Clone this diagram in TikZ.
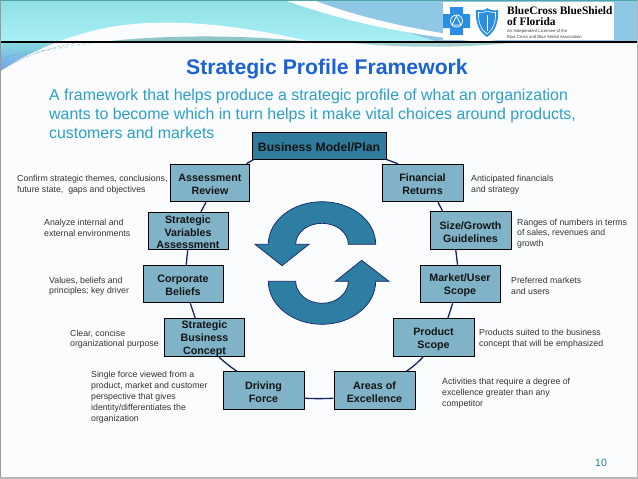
\documentclass[tikz,border=0pt]{standalone}
\usepackage{fontspec}
\setmainfont{Liberation Sans}
\newfontfamily\logofont{Liberation Serif}
\usetikzlibrary{calc}
\definecolor{boxfill}{HTML}{80B3C8}
\definecolor{planfill}{HTML}{2F7C9C}
\definecolor{arrowfill}{HTML}{2E7DA3}
\definecolor{navy}{HTML}{14246B}
\definecolor{pagebg}{HTML}{FBFCFD}
\definecolor{bandcyan}{HTML}{A8F0F5}
\definecolor{bandblue}{HTML}{8FC8E4}
\definecolor{titleblue}{HTML}{1C62D2}
\definecolor{bodyblue}{HTML}{2C9FC8}
\definecolor{notegray}{HTML}{333333}
\definecolor{logoblue}{HTML}{2A8FE2}
\definecolor{pagenum}{HTML}{2E7A92}
\tikzset{
  x=1pt,y=-1pt,
  boxbase/.style={draw=black,line width=1pt,fill=boxfill,text=black!92,inner sep=0pt,align=center,
    minimum width=80pt,minimum height=37.5pt,font=\fontsize{10.7}{12.8}\selectfont\bfseries},
  boxnode/.style={boxbase,execute at begin node={\rule{0pt}{23.5pt}}},
  threelines/.style={boxbase,execute at begin node={\rule{0pt}{36pt}}},
  planbox/.style={boxbase,fill=planfill,minimum width=134pt,minimum height=27pt,
    font=\fontsize{12.2}{14}\selectfont\bfseries,execute at begin node={\rule{0pt}{11.5pt}}},
  note/.style={anchor=west,align=left,inner sep=0pt,yshift=-1.2pt,text=notegray,font=\fontsize{8.75}{10.8}\selectfont},
  link/.style={draw=navy,line width=1.3pt},
  cycle/.style={draw=navy,line width=.7pt,fill=arrowfill,line join=miter},
}
\begin{document}
\begin{tikzpicture}
\useasboundingbox (0,0) rectangle (638,479);
% page and header band
\fill[pagebg] (0,0) rectangle (638,479);
\fill[top color=bandcyan!85!teal,bottom color=bandcyan] (0,0) -- (300,0) -- (440,42) -- (0,42) -- cycle;
\fill[bandblue] (300,0) -- (638,0) -- (638,42) -- (440,42) -- cycle;
\fill[white] (284,0) .. controls (340,20) and (400,34) .. (480,42) -- (505,42) .. controls (420,32) and (360,18) .. (313,0) -- cycle;
\fill[top color=bandcyan!80!teal,bottom color=bandblue!80!blue] (0,42) -- (80,42) .. controls (45,48) and (20,58) .. (0,71) -- cycle;
\fill[pagebg] (0,71) .. controls (30,52) and (65,36) .. (110,27) .. controls (170,17) and (240,25) .. (312,42) -- (80,42) .. controls (45,48) and (20,58) .. (0,71) -- cycle;
\draw[teal!70,line width=.4pt,dashed] (0,58) -- (90,43);
\fill[teal!45] (110,41) .. controls (180,34) and (250,36) .. (303,41) -- cycle;
\fill[teal!35] (353,43) .. controls (400,48) and (460,48) .. (510,43) -- cycle;
% logo
\fill[white] (443,2) rectangle (614,40);
\fill[logoblue] (450,7) -- (463,7) -- (463,14) -- (470,14) -- (470,28) -- (463,28) -- (463,35) -- (450,35) -- (450,28) -- (443,28) -- (443,14) -- (450,14) -- cycle;
\draw[white,line width=.8pt] (456.5,21) circle[radius=6pt];
\draw[white,line width=.7pt] (456.5,16) -- (452,25) -- (461,25) -- cycle;
\fill[logoblue] (476,10) .. controls (482,11) and (488,9) .. (487,8) .. controls (490,10) and (494,11) .. (498,10) .. controls (499,22) and (495,32) .. (487,37) .. controls (479,32) and (475,22) .. (476,10) -- cycle;
\draw[white,line width=.6pt] (478.5,12.5) .. controls (482,13) and (485,12) .. (487,11) .. controls (490,12) and (493,13) .. (495.5,12.5) .. controls (496,22) and (493,30) .. (487,34) .. controls (481,30) and (478,22) .. (478.5,12.5) -- cycle;
\draw[white,line width=.9pt] (487,15) -- (487,31);
\node[anchor=west,inner sep=0pt,font=\logofont\bfseries\fontsize{11.4}{12}\selectfont] (logoa) at (507,11) {BlueCross BlueShield};
\node[anchor=west,inner sep=0pt,font=\logofont\bfseries\fontsize{11.4}{12}\selectfont] (logob) at (507,22) {of Florida};
\node[anchor=west,inner sep=0pt,text=black!75,font=\fontsize{4.25}{5}\selectfont] (logoc) at (507,31) {An Independent Licensee of the};
\node[anchor=west,inner sep=0pt,text=black!75,font=\fontsize{4.25}{5}\selectfont] (logod) at (507,36.5) {Blue Cross and Blue Shield Association};
% rules and frame
\fill[black] (0,41) rectangle (638,43.2);
\fill[teal!70] (0,0) rectangle (638,.7);
\fill[black!40] (0,0) rectangle (1,479);
\fill[black!30] (636.5,0) rectangle (638,479);
\fill[black!28] (0,477) rectangle (638,479);
% title and intro
\node[inner sep=0pt,text=titleblue,font=\fontsize{21.2}{24}\selectfont\bfseries] (title) at (327,69) {Strategic Profile Framework};
\node[anchor=north west,align=left,inner sep=0pt,text=bodyblue,font=\fontsize{15.9}{19}\selectfont] (intro) at (49,89)
  {A framework that helps produce a strategic profile of what an organization\\
   wants to become which in turn helps it make vital choices around products,\\
   customers and markets};
% cycle arrows
\draw[cycle] (375.7,244.3) arc[start angle=0,end angle=180,x radius=53.7pt,y radius=42.6pt]
  -- (255,244.3) -- (282,265.7) -- (309,244.3) -- (295.7,244.3)
  arc[start angle=180,end angle=0,x radius=26.3pt,y radius=21pt] -- cycle;
\draw[cycle] (268.3,281.3) arc[start angle=180,end angle=360,x radius=53.7pt,y radius=43pt]
  -- (389,281.3) -- (361.7,260.3) -- (335.3,281.3) -- (348.3,281.3)
  arc[start angle=360,end angle=180,x radius=26.3pt,y radius=22pt] -- cycle;
% boxes
\node[planbox] (plan) at (319,145.5) {Business Model/Plan};
\node[boxnode,minimum width=79pt] (assess) at (210,183) {Assessment\\Review};
\node[threelines] (vars) at (188,231) {Strategic\\Variables\\Assessment};
\node[boxnode] (beliefs) at (183,284) {Corporate\\Beliefs};
\node[threelines] (concept) at (204.5,337.5) {Strategic\\Business\\Concept};
\node[boxnode,minimum width=81pt] (force) at (263.5,390.5) {Driving\\Force};
\node[boxnode,minimum width=81pt] (excel) at (374.5,390.5) {Areas of\\Excellence};
\node[boxnode,minimum width=81pt] (product) at (433.5,337.5) {Product\\Scope};
\node[boxnode] (market) at (460,284) {Market/User\\Scope};
\node[boxnode,minimum width=81pt] (size) at (470.5,230.5) {Size/Growth\\Guidelines};
\node[boxnode,minimum width=81pt] (fin) at (422.5,183) {Financial\\Returns};
% connectors
\draw[link] ($(plan.south west)!.015!(plan.south east)$) -- ($(assess.north west)!.955!(assess.north east)$);
\draw[link] (plan.south east) -- ($(fin.north west)!.2!(fin.north east)$);
\draw[link] ($(fin.south west)!.69!(fin.south east)$) -- ($(size.north west)!.16!(size.north east)$);
\draw[link] ($(size.south west)!.32!(size.south east)$) -- ($(market.north west)!.47!(market.north east)$);
\draw[link] ($(market.south west)!.41!(market.south east)$) -- ($(product.north west)!.675!(product.north east)$);
\draw[link] ($(product.south west)!.375!(product.south east)$) to[bend left=6] ($(excel.north west)!.89!(excel.north east)$);
\draw[link] ($(excel.south west)!.3!(excel.north west)$) to[bend left=3] ($(force.south east)!.3!(force.north east)$);
\draw[link] ($(force.north west)!.175!(force.north east)$) to[bend left=4] ($(concept.south west)!.68!(concept.south east)$);
\draw[link] ($(concept.north west)!.385!(concept.north east)$) -- ($(beliefs.south west)!.59!(beliefs.south east)$);
\draw[link] ($(beliefs.north west)!.54!(beliefs.north east)$) -- ($(vars.south west)!.496!(vars.south east)$);
\draw[link] ($(vars.north west)!.66!(vars.north east)$) -- ($(assess.south west)!.45!(assess.south east)$);
% notes
\node[note] (n1) at (17,183.5) {Confirm strategic themes, conclusions,\\future state,\ \ gaps and objectives};
\node[note] (n2) at (44,227) {Analyze internal and\\external environments};
\node[note] (n3) at (49,285) {Values, beliefs and\\principles; key driver};
\node[note] (n4) at (70,338) {Clear, concise\\organizational purpose};
\node[note] (n5) at (91,396) {Single force viewed from a\\product, market and customer\\perspective that gives\\identity/differentiates the\\organization};
\node[note] (n6) at (471,183.5) {Anticipated financials\\and strategy};
\node[note] (n7) at (517,232.5) {Ranges of numbers in terms\\of sales, revenues and\\growth};
\node[note] (n8) at (511,284.5) {Preferred markets\\and users};
\node[note] (n9) at (479,337.5) {Products suited to the business\\concept that will be emphasized};
\node[note] (n10) at (442,392) {Activities that require a degree of\\excellence greater than any\\competitor};
\node[anchor=west,inner sep=0pt,text=pagenum,font=\fontsize{10.5}{12}\selectfont] (num) at (595,463) {10};
\end{tikzpicture}
\end{document}
